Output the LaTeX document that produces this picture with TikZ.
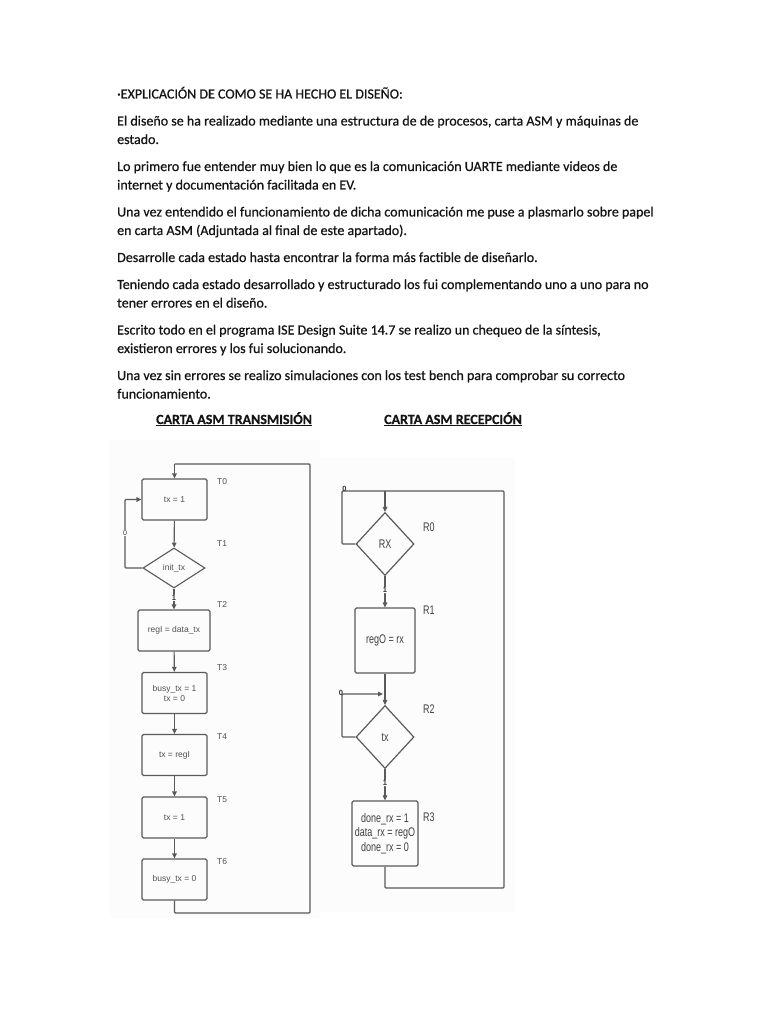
\documentclass[tikz,border=0pt]{standalone}
\usepackage{fontspec}
\setmainfont[FakeBold=0.6]{Carlito}
\newfontfamily\chartfont{Liberation Sans}
\newfontfamily\narrowfont[FakeStretch=0.72]{Liberation Sans}
\usetikzlibrary{shapes.geometric,arrows.meta}
\definecolor{lnc}{HTML}{5A5A5A}
\definecolor{txc}{HTML}{505050}
\definecolor{bgc}{HTML}{FCFCFC}
\begin{document}
\begin{tikzpicture}[x=1pt,y=-1pt,
  body/.style={anchor=base west,inner sep=0pt,font=\fontsize{14}{16}\selectfont,text=black!92},
  head/.style={anchor=base west,inner sep=0pt,font=\fontsize{14}{16}\selectfont\bfseries,text=black!92},
  lbox/.style={draw=lnc,line width=1.1pt,rounded corners=1.5pt,inner sep=0pt,minimum width=65,minimum height=41,align=center,font=\chartfont\fontsize{8.5}{10}\selectfont,text=txc},
  ldia/.style={draw=lnc,line width=1.1pt,diamond,inner sep=0pt,minimum width=62,minimum height=40,font=\chartfont\fontsize{8.5}{10}\selectfont,text=txc},
  rbox/.style={draw=lnc,line width=1.2pt,rounded corners=1.5pt,inner sep=0pt,align=center,font=\narrowfont\fontsize{12.5}{14.5}\selectfont,text=black!75},
  rdia/.style={draw=lnc,line width=1.2pt,diamond,inner sep=0pt,minimum width=58,minimum height=63,font=\narrowfont\fontsize{12.5}{14}\selectfont,text=black!75},
  wire/.style={draw=lnc,line width=1.1pt,rounded corners=1pt},
  arr/.style={wire,-{Triangle[length=5pt,width=4.5pt]}},
  slbl/.style={inner sep=0pt,font=\chartfont\bfseries\fontsize{7.5}{8}\selectfont,text=black!80},
  onl/.style={slbl,fill=bgc,inner sep=0.4pt},
  tlbl/.style={anchor=west,inner sep=0pt,font=\chartfont\fontsize{8.5}{9}\selectfont,text=txc},
  rlbl/.style={anchor=west,inner sep=0pt,font=\narrowfont\fontsize{12.5}{14}\selectfont,text=black!75}
]
\useasboundingbox[fill=white] (0,0) rectangle (768,1024);

% faint backgrounds of the two chart images
\fill[bgc] (110,440) rectangle (320,918);
\fill[bgc] (320,458) rectangle (515,912);

% ---------- text ----------
\node[body] (l1) at (117,98.5) {·EXPLICACIÓN DE COMO SE HA HECHO EL DISEÑO:};
\node[body] (l2) at (117,125.5) {El diseño se ha realizado mediante una estructura de de procesos, carta ASM y máquinas de};
\node[body] (l3) at (117,144) {estado.};
\node[body] (l4) at (117,171) {Lo primero fue entender muy bien lo que es la comunicación UARTE mediante videos de};
\node[body] (l5) at (117,189.5) {internet y documentación facilitada en EV.};
\node[body] (l6) at (117,216.5) {Una vez entendido el funcionamiento de dicha comunicación me puse a plasmarlo sobre papel};
\node[body] (l7) at (117,235) {en carta ASM (Adjuntada al final de este apartado).};
\node[body] (l8) at (117,262) {Desarrolle cada estado hasta encontrar la forma más factible de diseñarlo.};
\node[body] (l9) at (117,289) {Teniendo cada estado desarrollado y estructurado los fui complementando uno a uno para no};
\node[body] (l10) at (117,307.5) {tener errores en el diseño.};
\node[body] (l11) at (117,334.5) {Escrito todo en el programa ISE Design Suite 14.7 se realizo un chequeo de la síntesis,};
\node[body] (l12) at (117,353) {existieron errores y los fui solucionando.};
\node[body] (l13) at (117,380) {Una vez sin errores se realizo simulaciones con los test bench para comprobar su correcto};
\node[body] (l14) at (117,398.5) {funcionamiento.};
\node[head] (h1) at (156,424) {\underline{CARTA ASM TRANSMISIÓN}};
\node[head] (h2) at (384,424) {\underline{CARTA ASM RECEPCIÓN}};

% ---------- left chart ----------
\node[lbox] (t0) at (174.5,499.5) {tx = 1};
\node[ldia] (t1) at (174,568) {init\_tx};
\node[lbox,minimum width=72] (t2) at (174,630.5) {regI = data\_tx};
\node[lbox] (t3) at (174.5,693) {busy\_tx = 1\\tx = 0};
\node[lbox] (t4) at (174.5,755) {tx = regI};
\node[lbox] (t5) at (174.5,817.5) {tx = 1};
\node[lbox] (t6) at (174.5,879.5) {busy\_tx = 0};

\node[tlbl] (n0) at (217,482) {T0};
\node[tlbl] (n1) at (217,544) {T1};
\node[tlbl] (n2) at (217,605) {T2};
\node[tlbl] (n3) at (217,668) {T3};
\node[tlbl] (n4) at (217,737) {T4};
\node[tlbl] (n5) at (217,799.5) {T5};
\node[tlbl] (n6) at (217,862) {T6};

\coordinate (lbot) at (174.5,913);
\coordinate (lbotr) at (310,913);
\coordinate (ltopr) at (310,464);
\coordinate (ltop) at (174.5,464);
\coordinate (lloop) at (125,499.5);

\draw[arr] (t0) -- (t1);
\draw[arr] (t1) -- node[onl,pos=0.45]{1} (t2);
\draw[arr] (t2) -- (t3);
\draw[arr] (t3) -- (t4);
\draw[arr] (t4) -- (t5);
\draw[arr] (t5) -- (t6);
\draw[wire] (t6.south) -- (lbot) -- (lbotr) -- (ltopr) -- (ltop);
\draw[arr] (ltop) -- (t0.north);
\draw[arr] (t1.west) -| (lloop) -- (t0.west);
\node[onl,font=\chartfont\fontsize{7}{8}\selectfont] (z0) at (125,533) {0};

% ---------- right chart ----------
\node[rdia] (r0) at (385,544) {RX};
\node[rbox,minimum width=60,minimum height=65] (r1) at (385,640.5) {regO = rx};
\node[rdia] (r2) at (385,737) {tx};
\node[rbox,minimum width=66,minimum height=65] (r3) at (385,833.5) {done\_rx = 1\\data\_rx = regO\\done\_rx = 0};

\node[rlbl] (m0) at (423,527) {R0};
\node[rlbl] (m1) at (423,610) {R1};
\node[rlbl] (m2) at (423,709.5) {R2};
\node[rlbl] (m3) at (423,817) {R3};

\coordinate (rtop) at (385,491);
\coordinate (rtl) at (342,491);
\coordinate (rtr) at (504,491);
\coordinate (rbr) at (504,888);
\coordinate (rbot) at (385,888);
\coordinate (r2l) at (342,694);
\coordinate (r2in) at (383,694);

\draw[wire] (r0.west) -| (rtl) -- (rtop);
\draw[wire] (r3.south) -- (rbot) -- (rbr) -- (rtr) -- (rtop);
\draw[arr] (rtop) -- (r0.north);
\draw[arr] (r0) -- node[onl,pos=0.45]{1} (r1);
\draw[arr] (r1) -- (r2);
\draw[arr] (r2.west) -| (r2l) -- (r2in);
\draw[arr] (r2) -- node[onl,pos=0.45]{1} (r3);
\node[slbl] (z1) at (344.5,488.5) {0};
\node[slbl] (z2) at (341,692.5) {0};
\end{tikzpicture}
\end{document}
